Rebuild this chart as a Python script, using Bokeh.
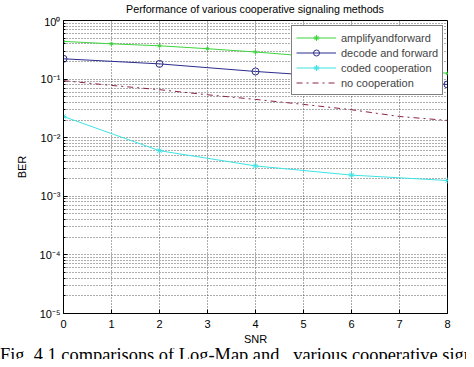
from bokeh.plotting import figure
from bokeh.models import (Range1d, FixedTicker, CustomJSTickFormatter, Legend,
                          LegendItem, Div)
from bokeh.layouts import column
from bokeh.embed import file_html
from bokeh.resources import INLINE

# ---- data ----
snr_all = [0, 1, 2, 3, 4, 5, 6, 7, 8]
snr_even = [0, 2, 4, 6, 8]
amplify_forward = [0.44, 0.40, 0.37, 0.33, 0.29, 0.25, 0.20, 0.16, 0.125]
decode_forward = [0.222, 0.182, 0.135, 0.105, 0.081]
coded_cooperation = [0.023, 0.0060, 0.0033, 0.0023, 0.00186]
no_cooperation = [0.094, 0.078, 0.066, 0.054, 0.045, 0.037, 0.030, 0.023, 0.0197]
x_ticks = [0, 1, 2, 3, 4, 5, 6, 7, 8]
y_ticks = [1e-5, 1e-4, 1e-3, 1e-2, 1e-1, 1]

title_text = "Performance of various cooperative signaling methods"
caption_text = "Fig. 4.1 comparisons of Log-Map and &nbsp; various cooperative signaling methods"

FONT = "Liberation Sans"

title_div = Div(
    text=('<div style="font-family:\'Liberation Sans\';font-size:10.7px;'
          'line-height:12px;white-space:nowrap;color:black;margin:0 0 0 44px;'
          'padding:3px 0 0 0;text-align:center;width:422px">' + title_text + '</div>'),
    width=466, height=15, styles={"overflow": "hidden", "margin": "0"})

p = figure(width=466, height=333, y_axis_type="log",
           x_range=Range1d(0, 8), y_range=Range1d(1e-5, 1),
           output_backend="svg", toolbar_location=None,
           min_border_left=63, min_border_right=19,
           min_border_top=5, min_border_bottom=35)
p.title.text = ""

p.outline_line_color = "black"
p.outline_line_width = 1
p.background_fill_color = "white"
p.border_fill_color = "white"

# axes
p.xaxis.ticker = FixedTicker(ticks=x_ticks)
p.yaxis.ticker = FixedTicker(ticks=y_ticks,
                             minor_ticks=[m * 10.0 ** e for e in range(-5, 0) for m in range(2, 10)])
p.yaxis.formatter = CustomJSTickFormatter(code="""
const e = Math.round(Math.log10(tick));
const sup = {'0':'\u2070','1':'\u00b9','2':'\u00b2','3':'\u00b3','4':'\u2074','5':'\u2075','6':'\u2076','7':'\u2077','8':'\u2078','9':'\u2079','-':'\u207b'};
return '10' + String(e).split('').map(c => sup[c]).join('');
""")
for ax in (p.xaxis, p.yaxis):
    ax.axis_line_color = "black"
    ax.major_tick_in = 4
    ax.major_tick_out = 0
    ax.major_tick_line_color = "black"
    ax.major_label_text_font = FONT
    ax.major_label_text_font_size = "11px"
    ax.major_label_text_color = "black"
    ax.axis_label_text_font = FONT
    ax.axis_label_text_font_size = "11px"
    ax.axis_label_text_font_style = "normal"
    ax.axis_label_text_color = "black"
p.xaxis.minor_tick_line_color = None
p.yaxis.minor_tick_in = 2
p.yaxis.minor_tick_out = 0
p.yaxis.minor_tick_line_color = "black"
p.xaxis.axis_label = "SNR"
p.yaxis.axis_label = "BER"
p.xaxis.major_label_standoff = 6
p.xaxis.axis_label_standoff = 2
p.yaxis.major_label_standoff = 3
p.yaxis.axis_label_standoff = 9

# grid (MATLAB-like dotted)
for g in (p.xgrid, p.ygrid):
    g.grid_line_color = "#333333"
    g.grid_line_dash = "1 2"
    g.grid_line_alpha = 0.8
p.ygrid.minor_grid_line_color = "#333333"
p.ygrid.minor_grid_line_dash = "1 2"
p.ygrid.minor_grid_line_alpha = 0.8

GREEN = "#3fd23f"
NAVY = "#2c2c8c"
CYAN = "#3fe3e3"
DRED = "#8c2442"

r1 = p.line(snr_all, amplify_forward, line_color=GREEN, line_width=1)
m1 = p.scatter(snr_all, amplify_forward, marker="asterisk", size=4, line_color=GREEN)
r2 = p.line(snr_even, decode_forward, line_color=NAVY, line_width=1)
m2 = p.scatter(snr_even, decode_forward, marker="circle", size=7, line_color=NAVY,
               fill_color=None, line_width=1)
r3 = p.line(snr_even, coded_cooperation, line_color=CYAN, line_width=1)
m3 = p.scatter(snr_even, coded_cooperation, marker="asterisk", size=6, line_color=CYAN)
r4 = p.line(snr_all, no_cooperation, line_color=DRED, line_width=1, line_dash="dashdot")

legend = Legend(items=[
    LegendItem(label="amplifyandforward", renderers=[r1, m1]),
    LegendItem(label="decode and forward", renderers=[r2, m2]),
    LegendItem(label="coded cooperation", renderers=[r3, m3]),
    LegendItem(label="no cooperation", renderers=[r4]),
], location=(228, 218))
legend.label_text_font = FONT
legend.label_text_font_size = "11px"
legend.label_height = 15
legend.glyph_height = 15
legend.glyph_width = 40
legend.label_standoff = 5
legend.spacing = 0
legend.padding = 4
legend.margin = 0
legend.border_line_color = "black"
legend.border_line_width = 1
legend.background_fill_color = "white"
legend.background_fill_alpha = 1
p.add_layout(legend, "center")

caption = Div(
    text=('<div style="font-family:\'Liberation Serif\';font-size:18.4px;'
          'line-height:13px;white-space:nowrap;color:black;margin:0;padding:0;'
          'padding-top:1px">' + caption_text + '</div>'),
    width=466, height=11, styles={"overflow": "hidden", "margin": "0"})

layout = column(title_div, p, caption, spacing=0)

open("out.html", "w").write(file_html(layout, INLINE))
